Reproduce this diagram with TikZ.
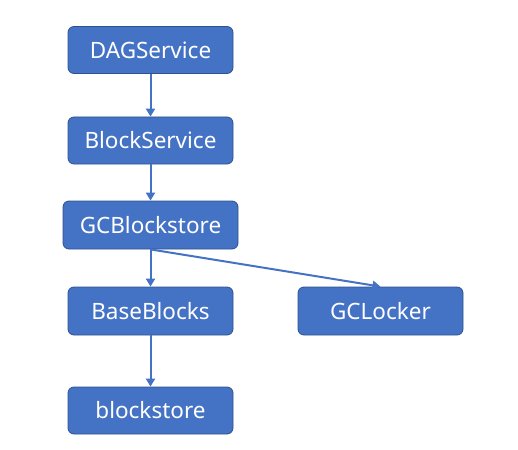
\documentclass[tikz,border=0pt]{standalone}
\usepackage{fontspec}
\setmainfont{Noto Sans}
\usetikzlibrary{arrows.meta}
\definecolor{boxfill}{HTML}{4472C4}
\definecolor{boxline}{HTML}{2F528F}
\begin{document}
\begin{tikzpicture}[x=1pt,y=-1pt,
  box/.style={draw=boxline,line width=0.8pt,fill=boxfill,rounded corners=6pt,
    text=white,font=\fontsize{22.5}{26}\selectfont,inner sep=0pt,anchor=center},
  conn/.style={draw=boxfill,line width=2pt,-{Triangle[width=9pt,length=8pt]}}]
\useasboundingbox (0,0) rectangle (518,449);
\node[box,minimum width=165pt,minimum height=47pt] (dag) at (150.5,50) {DAGService};
\node[box,minimum width=165pt,minimum height=47pt] (bs) at (150.5,140.5) {BlockService};
\node[box,minimum width=175pt,minimum height=48pt] (gcb) at (150.5,225) {GCBlockstore};
\node[box,minimum width=165pt,minimum height=48pt] (base) at (150.5,311) {BaseBlocks};
\node[box,minimum width=165pt,minimum height=48pt] (gcl) at (380.5,311) {GCLocker};
\node[box,minimum width=165pt,minimum height=47pt] (blk) at (150.5,410.5) {blockstore};
\draw[conn] (dag.south) -- (bs.north);
\draw[conn] (bs.south) -- (gcb.north);
\draw[conn] (gcb.south) -- (base.north);
\draw[conn] (gcb.south) -- (gcl.north);
\draw[conn] (base.south) -- (blk.north);
\end{tikzpicture}
\end{document}
